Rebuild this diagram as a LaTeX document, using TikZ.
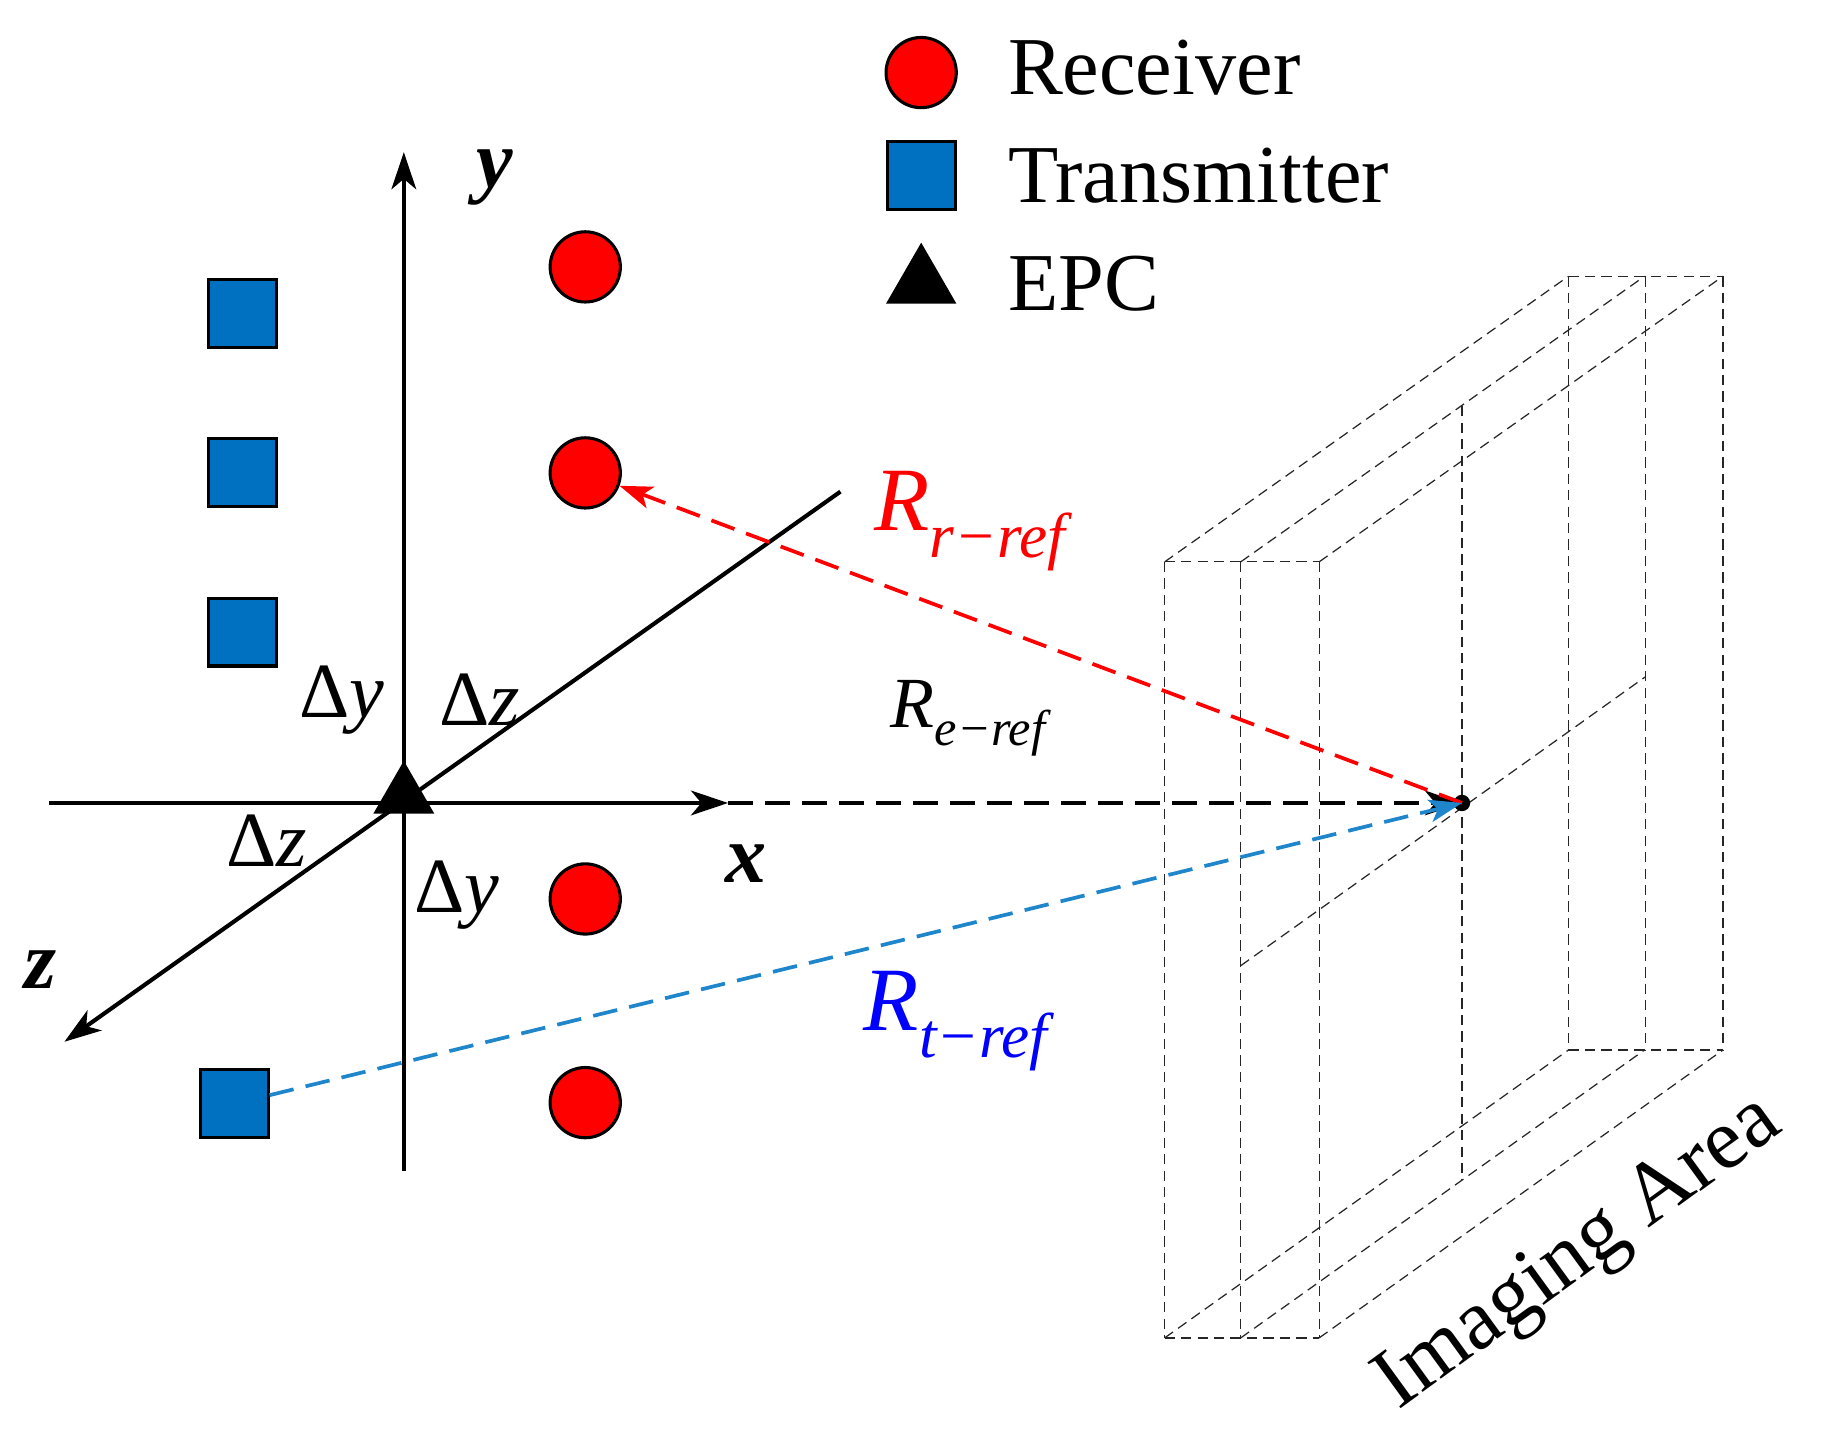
\documentclass[tikz,border=0pt]{standalone}
\usepackage{fontspec}
\setmainfont{Liberation Serif}
\usetikzlibrary{arrows.meta,shapes.geometric}
\definecolor{tblue}{HTML}{0070C0}
\definecolor{lblue}{HTML}{1F86CC}
\newcommand{\Rl}[1]{\textit{R}\textsubscript{\textit{#1}}}
\begin{document}
\begin{tikzpicture}[x=0.02cm,y=-0.02cm,
 rx/.style={circle,draw=black,line width=1.5pt,fill=red,minimum size=60*0.02cm,inner sep=0},
 tx/.style={rectangle,draw=black,line width=1.5pt,fill=tblue,minimum size=58*0.02cm,inner sep=0},
 epc/.style={isosceles triangle,isosceles triangle apex angle=60,shape border rotate=90,fill=black,minimum size=45*0.02cm,inner sep=0},
 ax/.style={line width=2pt,-{Stealth[length=18pt,width=12pt,inset=5pt]}},
 box/.style={gray!30!black,line width=0.6pt,dash pattern=on 5pt off 3pt},
 lab/.style={font=\fontsize{38}{44}\selectfont},
 axl/.style={font=\fontsize{40}{46}\selectfont\bfseries\itshape}]
\useasboundingbox (0,0) rectangle (1560,1224);
% imaging box
\foreach \x in {995,1060,1127}{\draw[box] (\x,480) -- (\x,1143); \draw[box] (\x,480) -- ++(345,-244); \draw[box] (\x,1143) -- ++(345,-246);}
\foreach \x in {1340,1406,1472}{\draw[box] (\x,236) -- (\x,897);}
\draw[box] (995,480) -- (1127,480); \draw[box] (995,1143) -- (1127,1143);
\draw[box] (1340,236) -- (1472,236); \draw[box] (1340,897) -- (1472,897);
\draw[box] (1249,347) -- (1249,1008);
\draw[box] (1060,825) -- (1406,578);
\coordinate (P) at (1249,686);
\fill (P) circle (7*0.02cm);
% axes
\coordinate (O) at (345,686);
\coordinate (yb) at (345,1000); \coordinate (yt) at (345,130);
\coordinate (xl) at (42,686); \coordinate (xr) at (622,686);
\coordinate (zt) at (718,420); \coordinate (zb) at (55,890);
\draw[ax] (yb) -- (yt);
\draw[ax] (xl) -- (xr);
\draw[ax] (zt) -- (zb);
\node[epc] (E) at (345,680) {};
\draw[line width=1.8pt,dash pattern=on 12pt off 6pt,-{Stealth[length=18pt,width=12pt,inset=5pt]}] (xr) -- (P);
% elements
\node[rx] (r1) at (500,228) {};
\node[rx] (r2) at (500,404) {};
\node[rx] (r3) at (500,768) {};
\node[rx] (r4) at (500,942) {};
\node[tx] (t1) at (207,268) {};
\node[tx] (t2) at (207,404) {};
\node[tx] (t3) at (207,540) {};
\node[tx] (t4) at (200,943) {};
\draw[red,line width=1.8pt,dash pattern=on 12pt off 6pt,-{Stealth[length=16pt,width=11pt,inset=4pt]}] (P) -- (r2);
\draw[lblue,line width=1.8pt,dash pattern=on 12pt off 6pt,-{Stealth[length=16pt,width=11pt,inset=4pt]}] (t4) -- (P);
% labels
\node[axl] (ly) at (423,152) {y};
\node[axl] (lx) at (637,738) {x};
\node[axl] (lz) at (35,828) {z};
\node[lab] (d1) at (292,598) {Δ\textit{y}};
\node[lab] (d2) at (410,598) {Δ\textit{z}};
\node[lab] (d3) at (228,718) {Δ\textit{z}};
\node[lab] (d4) at (390,765) {Δ\textit{y}};
\node[lab,text=red,font=\fontsize{44}{50}\selectfont] (lr) at (832,445) {\Rl{r−ref}};
\node[lab,font=\fontsize{35}{40}\selectfont] (le) at (830,614) {\Rl{e−ref}};
\node[lab,text=blue,font=\fontsize{44}{50}\selectfont] (lt) at (820,872) {\Rl{t−ref}};
\node[rotate=36,font=\fontsize{42}{48}\selectfont\upshape] (ia) at (1350,1072) {\textup{Imaging Area}};
% legend
\node[rx] (g1) at (787,62) {};
\node[tx] (g2) at (787,150) {};
\node[epc,minimum size=52*0.02cm] (g3) at (787,242) {};
\node[anchor=west,font=\fontsize{40}{46}\selectfont] (gt1) at (855,58) {Receiver};
\node[anchor=west,font=\fontsize{40}{46}\selectfont] (gt2) at (855,150) {Transmitter};
\node[anchor=west,font=\fontsize{40}{46}\selectfont] (gt3) at (855,242) {EPC};
\end{tikzpicture}
\end{document}
